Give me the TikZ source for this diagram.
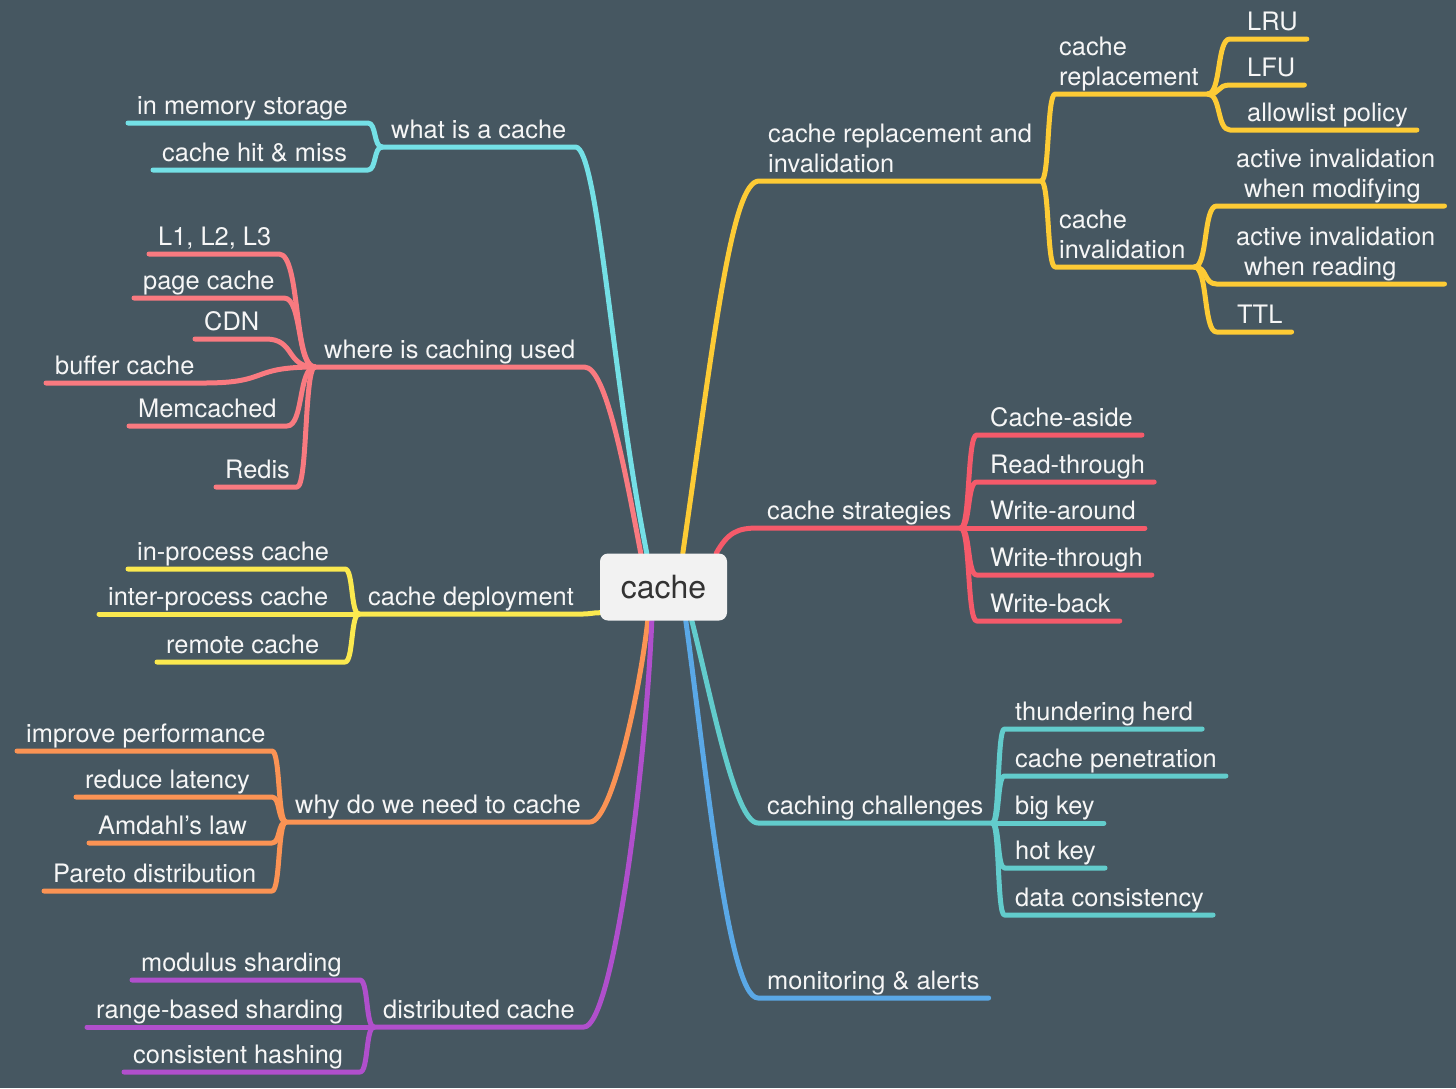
\documentclass[tikz,border=0pt]{standalone}
\usepackage{fontspec}
\setmainfont{TeX Gyre Heros}
\usetikzlibrary{calc}
\definecolor{bgc}{RGB}{70,87,97}
\definecolor{txt}{RGB}{246,246,246}
\definecolor{rootc}{RGB}{242,242,242}
\definecolor{roott}{RGB}{51,51,51}
\definecolor{cyanc}{RGB}{116,224,230}
\definecolor{pinkc}{RGB}{249,122,128}
\definecolor{yelc}{RGB}{251,233,79}
\definecolor{orac}{RGB}{251,147,84}
\definecolor{purc}{RGB}{176,79,204}
\definecolor{goldc}{RGB}{253,203,53}
\definecolor{redc}{RGB}{245,90,106}
\definecolor{tealc}{RGB}{98,204,204}
\definecolor{bluec}{RGB}{90,168,230}
\pgfdeclarelayer{back}
\pgfdeclarelayer{links}
\pgfsetlayers{back,links,main}
% left bracket: junction #1, child #2, width #3, colour #4
\newcommand{\mmL}[4]{\draw[conn,#4] (#1) .. controls ($(#1)+(-0.6*#3,0)$) and ($(#1 |- #2.south)+(-0.4*#3,0)$) .. ($(#1 |- #2.south)+(-#3,0)$) -- (#2.south west);}
% right bracket
\newcommand{\mmR}[4]{\draw[conn,#4] (#1) .. controls ($(#1)+(0.6*#3,0)$) and ($(#1 |- #2.south)+(0.4*#3,0)$) .. ($(#1 |- #2.south)+(#3,0)$) -- (#2.south east);}
\begin{document}
\begin{tikzpicture}[x=1pt,y=-1pt,
  lbl/.style={anchor=south west, text=txt, font=\fontsize{25.4pt}{30pt}\selectfont,
    inner xsep=9pt, inner ysep=8pt, text depth=0pt, align=left},
  conn/.style={line width=5pt, line cap=round, line join=round}]
\begin{pgfonlayer}{back}
\fill[bgc] (0,0) rectangle (1456,1088);
\end{pgfonlayer}
\useasboundingbox (0,0) rectangle (1456,1088);

\node[fill=rootc, rounded corners=8pt, minimum width=127pt, minimum height=67pt,
  inner sep=0pt, text=roott, font=\fontsize{32pt}{36pt}\selectfont] (root) at (663.5,587) {cache};

% left side nodes
\node[lbl] (ims) at (128,123) {in memory storage};
\node[lbl] (chm) at (153,170) {cache hit \& miss};
\node[lbl] (wc) at (382,147) {what is a cache};
\node[lbl] (L1) at (149,254) {L1, L2, L3};
\node[lbl] (pc) at (134,298) {page cache};
\node[lbl] (cdn) at (195,339) {CDN};
\node[lbl] (bc) at (46,383) {buffer cache};
\node[lbl] (mc) at (129,426) {Memcached};
\node[lbl] (rd) at (216,487) {Redis};
\node[lbl] (wu) at (315,367) {where is caching used};
\node[lbl] (ipc) at (128,569) {in-process cache};
\node[lbl] (xpc) at (99,614) {inter-process cache};
\node[lbl] (rc) at (157,662) {remote cache};
\node[lbl] (cd) at (359,614) {cache deployment};
\node[lbl] (ip) at (17,751) {improve performance};
\node[lbl] (rl) at (76,797) {reduce latency};
\node[lbl] (am) at (89,843) {Amdahl’s law};
\node[lbl] (pd) at (44,891) {Pareto distribution};
\node[lbl] (why) at (286,822) {why do we need to cache};
\node[lbl] (ms) at (132,980) {modulus sharding};
\node[lbl] (rbs) at (87,1027) {range-based sharding};
\node[lbl] (ch) at (124,1072) {consistent hashing};
\node[lbl] (dc) at (374,1027) {distributed cache};

% right side nodes
\node[lbl] (cri) at (759,181) {cache replacement and\\invalidation};
\node[lbl] (cr) at (1050,94) {cache\\replacement};
\node[lbl] (ci) at (1050,267) {cache\\invalidation};
\node[lbl] (lru) at (1238,39) {LRU};
\node[lbl] (lfu) at (1238,85) {LFU};
\node[lbl] (alp) at (1238,130) {allowlist policy};
\node[lbl] (aim) at (1227,206) {active invalidation\\\hspace*{8pt}when modifying};
\node[lbl] (air) at (1227,284) {active invalidation\\\hspace*{8pt}when reading};
\node[lbl] (ttl) at (1228,332) {TTL};
\node[lbl] (cs) at (758,528) {cache strategies};
\node[lbl] (ca) at (981,435) {Cache-aside};
\node[lbl] (rt) at (981,482) {Read-through};
\node[lbl] (wa) at (981,528) {Write-around};
\node[lbl] (wt) at (981,575) {Write-through};
\node[lbl] (wb) at (981,621) {Write-back};
\node[lbl] (cc) at (758,823) {caching challenges};
\node[lbl] (th) at (1006,729) {thundering herd};
\node[lbl] (cp) at (1006,776) {cache penetration};
\node[lbl] (bk) at (1006,823) {big key};
\node[lbl] (hk) at (1006,868) {hot key};
\node[lbl] (dcn) at (1006,915) {data consistency};
\node[lbl] (ma) at (758,998) {monitoring \& alerts};

\begin{pgfonlayer}{links}
% main branches
\draw[conn,cyanc] ($(root.north west)+(47,0)$) .. controls (612,380) and (598,147) .. (wc.south east) -- (wc.south west);
\draw[conn,pinkc] ($(root.north west)+(41,0)$) .. controls (625,470) and (606,367) .. (wu.south east) -- (wu.south west);
\draw[conn,yelc] ($(root.south west)+(0,-8)$) to[out=180,in=0] (cd.south east) -- (cd.south west);
\draw[conn,orac] ($(root.south west)+(48,0)$) .. controls (640,690) and (612,822) .. (why.south east) -- (why.south west);
\draw[conn,purc] ($(root.south west)+(52,0)$) .. controls (645,780) and (612,1027) .. (dc.south east) -- (dc.south west);
\draw[conn,goldc] ($(root.north west)+(83,0)$) .. controls (715,330) and (732,181) .. (cri.south west) -- (cri.south east);
\draw[conn,redc] ($(root.north east)+(-11,0)$) .. controls (728,532) and (738,528) .. (cs.south west) -- (cs.south east);
\draw[conn,bluec] ($(root.south west)+(86,0)$) .. controls (705,760) and (728,998) .. (ma.south west) -- (ma.south east);
\draw[conn,tealc] ($(root.south west)+(92,0)$) .. controls (712,700) and (735,823) .. (cc.south west) -- (cc.south east);

% what is a cache
\mmL{wc.south west}{ims}{14}{cyanc}
\mmL{wc.south west}{chm}{14}{cyanc}
% where is caching used
\mmL{wu.south west}{L1}{36}{pinkc}
\mmL{wu.south west}{pc}{31}{pinkc}
\mmL{wu.south west}{cdn}{49}{pinkc}
\mmL{wu.south west}{bc}{111}{pinkc}
\mmL{wu.south west}{mc}{28}{pinkc}
\mmL{wu.south west}{rd}{18}{pinkc}
% cache deployment
\mmL{cd.south west}{ipc}{14}{yelc}
\mmL{cd.south west}{xpc}{14}{yelc}
\mmL{cd.south west}{rc}{14}{yelc}
% why
\mmL{why.south west}{ip}{14}{orac}
\mmL{why.south west}{rl}{14}{orac}
\mmL{why.south west}{am}{14}{orac}
\mmL{why.south west}{pd}{14}{orac}
% distributed
\mmL{dc.south west}{ms}{14}{purc}
\mmL{dc.south west}{rbs}{14}{purc}
\mmL{dc.south west}{ch}{14}{purc}
% replacement and invalidation
\mmR{cri.south east}{cr}{14}{goldc}
\mmR{cri.south east}{ci}{14}{goldc}
\mmR{cr.south east}{lru}{22}{goldc}
\mmR{cr.south east}{lfu}{22}{goldc}
\mmR{cr.south east}{alp}{22}{goldc}
\mmR{ci.south east}{aim}{22}{goldc}
\mmR{ci.south east}{air}{22}{goldc}
\mmR{ci.south east}{ttl}{22}{goldc}
% strategies
\mmR{cs.south east}{ca}{16}{redc}
\mmR{cs.south east}{rt}{16}{redc}
\mmR{cs.south east}{wa}{16}{redc}
\mmR{cs.south east}{wt}{16}{redc}
\mmR{cs.south east}{wb}{16}{redc}
% challenges
\mmR{cc.south east}{th}{12}{tealc}
\mmR{cc.south east}{cp}{12}{tealc}
\mmR{cc.south east}{bk}{12}{tealc}
\mmR{cc.south east}{hk}{12}{tealc}
\mmR{cc.south east}{dcn}{12}{tealc}
\end{pgfonlayer}
\end{tikzpicture}
\end{document}
